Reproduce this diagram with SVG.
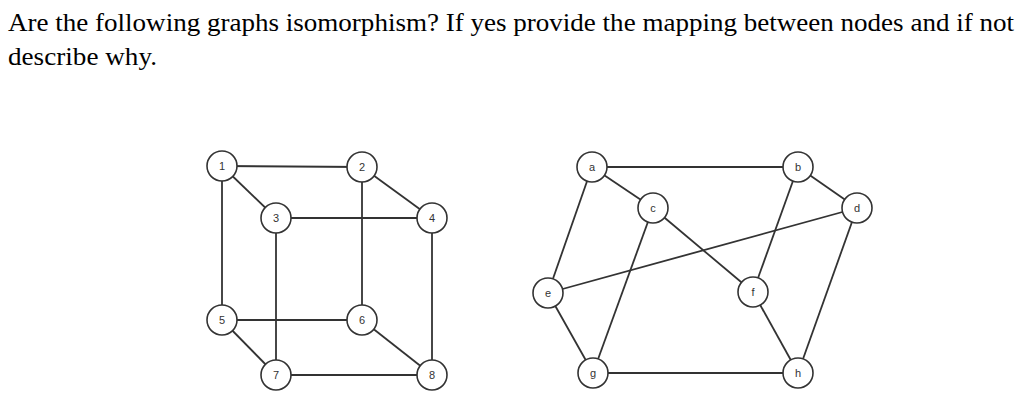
<svg xmlns="http://www.w3.org/2000/svg" width="1024" height="417" viewBox="0 0 1024 417">
<style>
.t{font-family:"Liberation Serif",serif;font-size:26px;fill:#000}
.n circle{fill:#fff;stroke:#333;stroke-width:1.6}
.n text{font-family:"Liberation Sans",sans-serif;font-size:11px;fill:#333;text-anchor:middle}
#edges line{stroke:#333;stroke-width:1.8}
</style>
<rect width="1024" height="417" fill="#fff"/>
<text class="t" x="8" y="31" textLength="1006" lengthAdjust="spacingAndGlyphs">Are the following graphs isomorphism? If yes provide the mapping between nodes and if not</text>
<text class="t" x="8" y="65" textLength="149" lengthAdjust="spacingAndGlyphs">describe why.</text>
<g id="edges">
<line x1="222" y1="166" x2="362" y2="167"/><line x1="222" y1="166" x2="276" y2="218"/><line x1="222" y1="166" x2="222" y2="320"/>
<line x1="362" y1="167" x2="432" y2="218"/><line x1="362" y1="167" x2="362" y2="320"/><line x1="276" y1="218" x2="432" y2="218"/>
<line x1="276" y1="218" x2="276" y2="375"/><line x1="432" y1="218" x2="432" y2="375"/><line x1="222" y1="320" x2="362" y2="320"/>
<line x1="222" y1="320" x2="276" y2="375"/><line x1="362" y1="320" x2="432" y2="375"/><line x1="276" y1="375" x2="432" y2="375"/>
<line x1="592" y1="167" x2="798" y2="167"/><line x1="592" y1="167" x2="653" y2="208"/><line x1="592" y1="167" x2="548" y2="293"/>
<line x1="798" y1="167" x2="857" y2="208"/><line x1="798" y1="167" x2="753" y2="292"/><line x1="653" y1="208" x2="753" y2="292"/>
<line x1="653" y1="208" x2="593" y2="373"/><line x1="857" y1="208" x2="548" y2="293"/><line x1="857" y1="208" x2="798" y2="373"/>
<line x1="548" y1="293" x2="593" y2="373"/><line x1="753" y1="292" x2="798" y2="373"/><line x1="593" y1="373" x2="798" y2="373"/>
</g>
<g id="n1" class="n"><circle cx="222" cy="166" r="15"/><text x="222" y="170">1</text></g>
<g id="n2" class="n"><circle cx="362" cy="167" r="15"/><text x="362" y="171">2</text></g>
<g id="n3" class="n"><circle cx="276" cy="218" r="15"/><text x="276" y="222">3</text></g>
<g id="n4" class="n"><circle cx="432" cy="218" r="15"/><text x="432" y="222">4</text></g>
<g id="n5" class="n"><circle cx="222" cy="320" r="15"/><text x="222" y="324">5</text></g>
<g id="n6" class="n"><circle cx="362" cy="320" r="15"/><text x="362" y="324">6</text></g>
<g id="n7" class="n"><circle cx="276" cy="375" r="15"/><text x="276" y="379">7</text></g>
<g id="n8" class="n"><circle cx="432" cy="375" r="15"/><text x="432" y="379">8</text></g>
<g id="na" class="n"><circle cx="592" cy="167" r="15"/><text x="592" y="171">a</text></g>
<g id="nb" class="n"><circle cx="798" cy="167" r="15"/><text x="798" y="171">b</text></g>
<g id="nc" class="n"><circle cx="653" cy="208" r="15"/><text x="653" y="212">c</text></g>
<g id="nd" class="n"><circle cx="857" cy="208" r="15"/><text x="857" y="212">d</text></g>
<g id="ne" class="n"><circle cx="548" cy="293" r="15"/><text x="548" y="297">e</text></g>
<g id="nf" class="n"><circle cx="753" cy="292" r="15"/><text x="753" y="296">f</text></g>
<g id="ng" class="n"><circle cx="593" cy="373" r="15"/><text x="593" y="377">g</text></g>
<g id="nh" class="n"><circle cx="798" cy="373" r="15"/><text x="798" y="377">h</text></g>
</svg>
